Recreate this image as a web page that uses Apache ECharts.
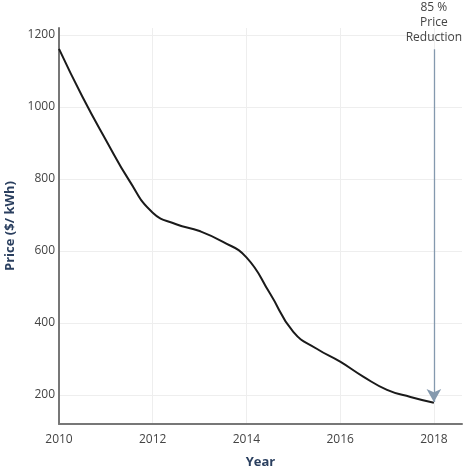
<!DOCTYPE html>
<html><head><meta charset="utf-8">
<script src="https://cdn.jsdelivr.net/npm/echarts@6/dist/echarts.min.js"></script>
<style>html,body{margin:0;padding:0;background:#fff}#c{width:474px;height:474px}</style>
</head><body><div id="c"></div>
<script>
const years = [2010, 2010.5, 2011, 2011.5, 2012, 2012.5, 2013, 2013.5, 2014, 2014.5, 2015, 2015.5, 2016, 2016.5, 2017, 2017.5, 2018];
const prices = [1161, 1028, 908, 795, 706, 674, 655, 625, 582, 482, 375, 328, 292, 250, 214, 194, 178];
const xTicks = [2010, 2012, 2014, 2016, 2018];
const yTicks = [200, 400, 600, 800, 1000, 1200];
const annotationText = '85 %\nPrice\nReduction';
const annotationFrom = [2018, 1160];
const annotationTo = [2018, 180];

const chart = echarts.init(document.getElementById('c'));
chart.setOption({
  animation: false,
  textStyle: { fontFamily: 'Open Sans' },
  grid: { left: 59, right: 12, top: 28, bottom: 50, containLabel: false, outerBoundsMode: 'none' },
  xAxis: {
    type: 'value', min: 2010, max: 2018.6,
    name: 'Year', nameLocation: 'middle', nameGap: 32,
    nameTextStyle: { fontWeight: 'bold', fontSize: 13, color: '#2a3f5f' },
    axisLine: { show: true, lineStyle: { color: '#777', width: 2 } },
    axisTick: { show: false, customValues: xTicks },
    axisLabel: { customValues: xTicks, color: '#444', fontSize: 12, margin: 10, formatter: v => String(v) },
    splitLine: { show: true, lineStyle: { color: '#eee' } }
  },
  yAxis: {
    type: 'value', min: 119, max: 1219,
    name: 'Price ($/ kWh)', nameLocation: 'middle', nameGap: 34,
    nameTextStyle: { fontWeight: 'bold', fontSize: 13, color: '#2a3f5f' },
    axisLine: { show: true, lineStyle: { color: '#777', width: 2 } },
    axisTick: { show: false, customValues: yTicks },
    axisLabel: { customValues: yTicks, color: '#444', fontSize: 12, margin: 4, formatter: v => String(v) },
    splitLine: { show: true, lineStyle: { color: '#eee' } }
  },
  series: [{
    type: 'line', smooth: 0.5, symbol: 'none',
    data: years.map((y, i) => [y, prices[i]]),
    lineStyle: { color: '#1a1a1a', width: 2 },
    markLine: {
      silent: true, symbol: ['none', 'arrow'], symbolSize: [11, 13],
      lineStyle: { color: '#8499ae', width: 1.3, type: 'solid' },
      label: { show: true, position: 'start', formatter: annotationText, color: '#444', fontSize: 12, lineHeight: 15, distance: 4 },
      data: [[{ coord: annotationFrom }, { coord: annotationTo }]]
    }
  }]
});
</script></body></html>
